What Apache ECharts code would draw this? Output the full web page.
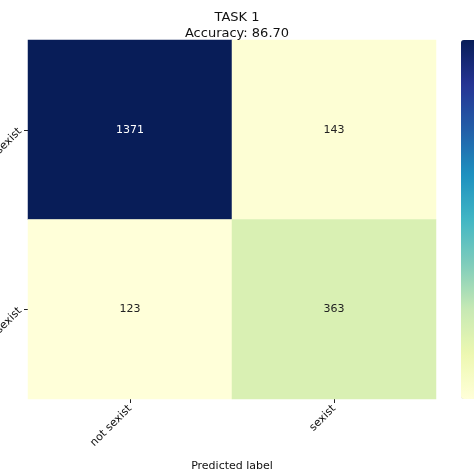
<!DOCTYPE html>
<html><head><meta charset="utf-8">
<script src="https://cdn.jsdelivr.net/npm/echarts@6/dist/echarts.min.js"></script>
<style>html,body{margin:0;padding:0;background:#fff}#c{width:474px;height:474px}</style>
</head><body><div id="c"></div>
<script>
const predLabels = ['not sexist', 'sexist'];
const trueLabels = ['not sexist', 'sexist'];
const matrix = [[1371, 143], [123, 363]]; // rows: true label, cols: predicted
const data = [];
matrix.forEach((row, i) => row.forEach((v, j) => data.push([j, i, v])));
const chart = echarts.init(document.getElementById('c'));
const font = 'DejaVu Sans';
chart.setOption({
  animation: false,
  textStyle: {fontFamily: font},
  title: {text: 'TASK 1\nAccuracy: 86.70', left: 232, textAlign: 'center', top: 5,
    textStyle: {fontFamily: font, fontSize: 13, fontWeight: 'normal', color: '#111', lineHeight: 16}},
  grid: {left: 28, right: 38, top: 40, bottom: 75, containLabel: false, outerBoundsMode: 'none'},
  xAxis: {type: 'category', data: predLabels, name: 'Predicted label', nameLocation: 'middle', nameGap: 62,
    nameTextStyle: {fontFamily: font, fontSize: 11, color: '#111'},
    axisLine: {show: false}, axisTick: {show: true, alignWithLabel: true, length: 4, lineStyle: {color: '#222'}},
    axisLabel: {rotate: 45, fontFamily: font, fontSize: 11, color: '#111', margin: 8}, splitArea: {show: false}},
  yAxis: {type: 'category', data: trueLabels, inverse: true,
    axisLine: {show: false}, axisTick: {show: true, alignWithLabel: true, length: 4, lineStyle: {color: '#222'}},
    axisLabel: {rotate: 45, fontFamily: font, fontSize: 11, color: '#111', margin: 8}},
  visualMap: {type: 'continuous', min: 123, max: 1371, show: true, calculable: false, left: 461, top: 40,
    itemWidth: 20, itemHeight: 359, text: null, showLabel: false, padding: 0, hoverLink: false,
    inRange: {color: ['#ffffd9', '#edf8b1', '#c7e9b4', '#7fcdbb', '#41b6c4', '#1d91c0', '#225ea8', '#253494', '#081d58']}},
  series: [{type: 'heatmap',
    data: data.map(d => ({value: d, label: {color: d[2] > 800 ? '#fff' : '#222'}})),
    label: {show: true, fontFamily: font, fontSize: 11, formatter: p => p.value[2]},
    itemStyle: {borderWidth: 0}}]
});
</script></body></html>
